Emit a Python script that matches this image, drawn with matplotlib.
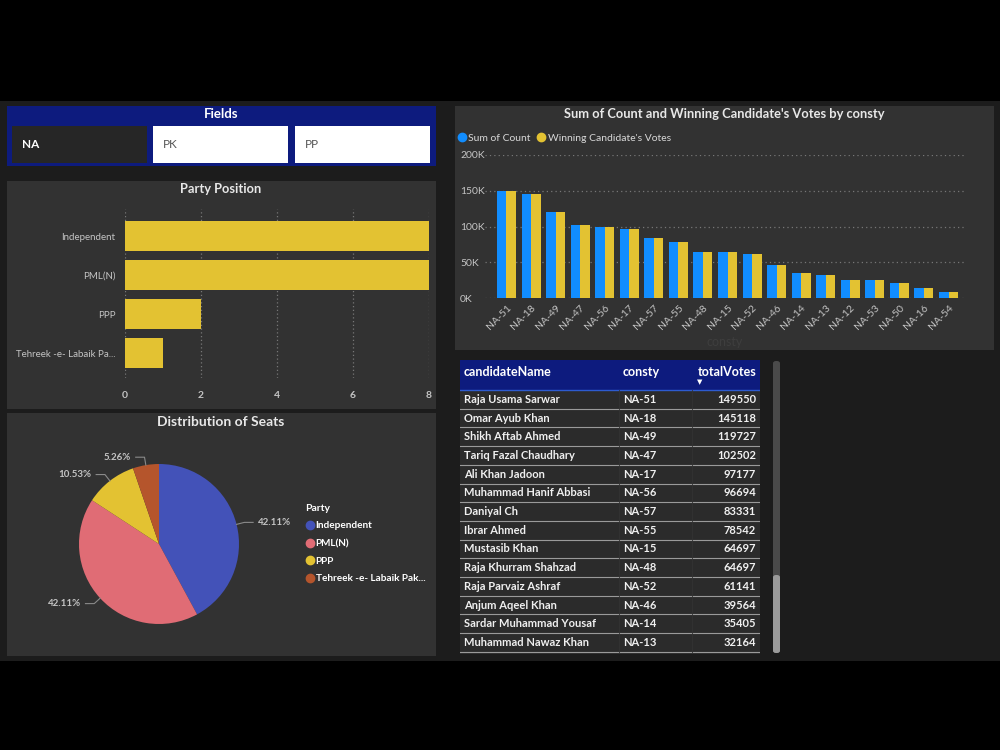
import matplotlib
matplotlib.use("Agg")
import matplotlib.pyplot as plt
from matplotlib.patches import Rectangle, FancyBboxPatch
from matplotlib.lines import Line2D
import numpy as np

plt.rcParams['font.family'] = ['Lato', 'DejaVu Sans']

# ---- data ----
parties = ["Independent", "PML(N)", "PPP", "Tehreek -e- Labaik Pa..."]
party_seats = [8, 8, 2, 1]
pie_legend = ["Independent", "PML(N)", "PPP", "Tehreek -e- Labaik Pak..."]
pie_colors = ["#4352b8", "#e06c75", "#e3c232", "#b5552c"]

consty = ["NA-51", "NA-18", "NA-49", "NA-47", "NA-56", "NA-17", "NA-57", "NA-55",
          "NA-48", "NA-15", "NA-52", "NA-46", "NA-14", "NA-13", "NA-12", "NA-53",
          "NA-50", "NA-16", "NA-54"]
sum_count = [149550, 145118, 119727, 102502, 99500, 97177, 83331, 78542,
             64697, 64697, 61141, 46500, 35405, 32164, 25500, 24800,
             20500, 14000, 9000]
winner_votes = [149550, 145118, 119727, 102502, 99500, 97177, 83331, 78542,
                64697, 64697, 61141, 46500, 35405, 32164, 25500, 24800,
                20500, 14000, 9000]

tbl_names = ["Raja Usama Sarwar", "Omar Ayub Khan", "Shikh Aftab Ahmed",
             "Tariq Fazal Chaudhary", "Ali Khan Jadoon", "Muhammad Hanif Abbasi",
             "Daniyal Ch", "Ibrar Ahmed", "Mustasib Khan", "Raja Khurram Shahzad",
             "Raja Parvaiz Ashraf", "Anjum Aqeel Khan", "Sardar Muhammad Yousaf",
             "Muhammad Nawaz Khan"]
tbl_consty = ["NA-51", "NA-18", "NA-49", "NA-47", "NA-17", "NA-56", "NA-57",
              "NA-55", "NA-15", "NA-48", "NA-52", "NA-46", "NA-14", "NA-13"]
tbl_votes = [149550, 145118, 119727, 102502, 97177, 96694, 83331,
             78542, 64697, 64697, 61141, 39564, 35405, 32164]

fields = ["NA", "PK", "PP"]

W, H = 1000, 750
fig = plt.figure(figsize=(10, 7.5), dpi=100, facecolor="black")


def box(x0, y0, x1, y1):
    return [x0 / W, 1 - y1 / H, (x1 - x0) / W, (y1 - y0) / H]


def rect(x0, y0, x1, y1, color, z=-10):
    b = box(x0, y0, x1, y1)
    fig.add_artist(Rectangle((b[0], b[1]), b[2], b[3], transform=fig.transFigure,
                             facecolor=color, edgecolor="none", zorder=z))


def ftext(x, y, s, **kw):
    fig.text(x / W, 1 - y / H, s, **kw)


TITLE = "#e8e8e8"
TICK = "#c4c4c4"
PANEL = "#323232"
BLUE = "#0d1b7e"

# backgrounds
rect(0, 101, 1000, 661, "#1c1c1c", z=-20)
rect(7, 106, 436, 166, BLUE)
rect(7, 181, 436, 409, PANEL)
rect(7, 413, 436, 656, PANEL)
rect(455, 106, 994, 350, PANEL)

# ---- Fields slicer ----
ftext(221, 114, "Fields", ha="center", va="center", color="white",
      fontsize=9.5, fontweight="bold")
btn_x = [(12, 147), (153, 288), (295, 430)]
for (x0, x1), f in zip(btn_x, fields):
    sel = f == "NA"
    rect(x0, 126, x1, 163, "#262626" if sel else "white", z=-5)
    ftext(x0 + 10, 145, f, ha="left", va="center", fontsize=8.5,
          fontweight="bold" if sel else "normal",
          color="white" if sel else "#555555")

# ---- Party Position ----
ftext(221, 189, "Party Position", ha="center", va="center", color=TITLE,
      fontsize=9.3, fontweight="bold")
ax1 = fig.add_axes(box(125, 209, 429, 378))
ax1.set_facecolor("none")
ax1.barh(np.arange(len(parties)), party_seats, height=0.76, color="#e3c232")
ax1.set_ylim(3.64, -0.7)
ax1.set_xlim(0, 8)
ax1.set_xticks([0, 2, 4, 6, 8])
ax1.set_yticks(np.arange(len(parties)))
ax1.set_yticklabels(parties)
ax1.tick_params(length=0, colors=TICK, labelsize=7)
ax1.tick_params(axis="x", pad=9, labelsize=7.5)
ax1.tick_params(axis="y", pad=7)
for lab in ax1.get_xticklabels():
    lab.set_fontweight("bold")
ax1.grid(axis="x", linestyle=(0, (1, 2)), color="#777777", linewidth=0.9)
ax1.set_axisbelow(True)
for s in ax1.spines.values():
    s.set_visible(False)

# ---- Distribution of Seats ----
ftext(221, 422, "Distribution of Seats", ha="center", va="center", color=TITLE,
      fontsize=10, fontweight="bold")
ax2 = fig.add_axes(box(79, 464, 239, 624))
ax2.set_facecolor("none")
wedges, _ = ax2.pie(party_seats, colors=pie_colors, startangle=90,
                    counterclock=False, radius=1.0)
ax2.set_xlim(-1, 1)
ax2.set_ylim(-1, 1)
ax2.set_aspect("equal")
total = sum(party_seats)
for w, v in zip(wedges, party_seats):
    ang = np.deg2rad((w.theta1 + w.theta2) / 2)
    p0 = np.array([np.cos(ang), np.sin(ang)])
    p1 = p0 * 1.1
    side = 1 if p0[0] > 0 else -1
    p2 = p1 + np.array([0.11 * side, 0])
    ax2.add_line(Line2D([p0[0], p1[0], p2[0]], [p0[1], p1[1], p2[1]],
                        color="#8a8a8a", linewidth=0.8, clip_on=False))
    ax2.text(p2[0] + 0.06 * side, p2[1], f"{v / total * 100:.2f}%",
             ha="left" if side > 0 else "right", va="center", color=TICK,
             fontsize=7, fontweight="bold", clip_on=False)

handles = [Line2D([], [], marker="o", linestyle="none", markersize=6,
                  markerfacecolor=c, markeredgecolor=c) for c in pie_colors]
leg = fig.legend(handles, pie_legend, title="Party", loc="upper left",
                 bbox_to_anchor=(301 / W, 1 - 500 / H), frameon=False,
                 handletextpad=0.05, labelspacing=0.85, borderaxespad=0,
                 handlelength=1.0, prop={"size": 7.2, "weight": "bold"})
leg.get_title().set_color("white")
leg.get_title().set_fontsize(7.5)
leg.get_title().set_fontweight("bold")
leg._legend_box.align = "left"
for t in leg.get_texts():
    t.set_color("white")

# ---- Sum of Count and Winning Candidate's Votes ----
ftext(724, 114, "Sum of Count and Winning Candidate's Votes by consty",
      ha="center", va="center", color=TITLE, fontsize=9.3, fontweight="bold")
ax3 = fig.add_axes(box(485, 155, 965, 298))
ax3.set_facecolor("none")
x = np.arange(len(consty))
bw = 0.387
ax3.bar(x - bw / 2, sum_count, width=bw, color="#118dff", label="Sum of Count")
ax3.bar(x + bw / 2, winner_votes, width=bw, color="#e3c232",
        label="Winning Candidate's Votes")
ax3.set_xlim(-0.875, len(consty) - 0.33)
ax3.set_ylim(0, 200000)
ax3.set_yticks([0, 50000, 100000, 150000, 200000])
ax3.set_yticklabels(["0K", "50K", "100K", "150K", "200K"])
ax3.set_xticks(x)
ax3.set_xticklabels(consty, rotation=45, ha="right", rotation_mode="anchor")
ax3.tick_params(length=0, colors=TICK, labelsize=7.5)
ax3.tick_params(axis="y", pad=18)
ax3.tick_params(axis="x", pad=4)
for lab in ax3.get_yticklabels():
    lab.set_ha("left")
ax3.grid(axis="y", linestyle=(0, (1, 2.5)), color="#777777", linewidth=0.9)
ax3.set_axisbelow(True)
for s in ax3.spines.values():
    s.set_visible(False)
ax3.set_xlabel("consty", color="#3e3e3e", fontsize=9, labelpad=3)
leg3 = ax3.legend(handles=[Line2D([], [], marker="o", linestyle="none",
                                  markersize=6, markerfacecolor=c,
                                  markeredgecolor=c)
                           for c in ("#118dff", "#e3c232")],
                  labels=["Sum of Count", "Winning Candidate's Votes"],
                  loc="lower left", bbox_to_anchor=(458 / W, 1 - 143 / H),
                  bbox_transform=fig.transFigure, ncol=2, frameon=False,
                  handlelength=0.8, handletextpad=0.2,
                  columnspacing=0.6, borderaxespad=0, borderpad=0,
                  prop={"size": 7.5})
for t in leg3.get_texts():
    t.set_color("#d8d8d8")

# ---- table ----
ax4 = fig.add_axes(box(460, 360, 760, 654))
ax4.set_xlim(0, 300)
ax4.set_ylim(294, 0)
ax4.axis("off")
head_h = 30
row_h = 18.7
ax4.add_patch(Rectangle((0, 0), 300, head_h, facecolor=BLUE, edgecolor="none"))
ax4.add_patch(Rectangle((0, head_h), 300, 294 - head_h, facecolor="#2b2b2b",
                        edgecolor="none"))
ax4.axhline(head_h, color="#2d5bd0", linewidth=1)
ax4.text(4, 12, "candidateName", ha="left", va="center", color="white",
         fontsize=9, fontweight="bold")
ax4.text(163, 12, "consty", ha="left", va="center", color="white",
         fontsize=9, fontweight="bold")
ax4.text(296, 12, "totalVotes", ha="right", va="center", color="white",
         fontsize=9, fontweight="bold")
ax4.text(240, 22, "\u25bc", ha="center", va="center", color="white",
         fontsize=5, family="DejaVu Sans")
for i, (n, c, v) in enumerate(zip(tbl_names, tbl_consty, tbl_votes)):
    yc = head_h + row_h * (i + 0.5)
    ax4.text(4, yc, n, ha="left", va="center", color="#f0f0f0", fontsize=8,
             fontweight="bold")
    ax4.text(163, yc, c, ha="left", va="center", color="#f0f0f0", fontsize=8,
             fontweight="bold")
    ax4.text(296, yc, str(v), ha="right", va="center", color="#f0f0f0",
             fontsize=8, fontweight="bold")
    ax4.axhline(head_h + row_h * (i + 1), color="#9a9a9a", linewidth=0.8)
for xv in (159, 232):
    ax4.plot([xv, xv], [head_h, 294], color="#333333", linewidth=0.6)

# scrollbar
sb = box(773, 361, 780, 653)
fig.add_artist(FancyBboxPatch((sb[0], sb[1]), sb[2], sb[3],
                              boxstyle="round,pad=0,rounding_size=0.003",
                              transform=fig.transFigure, facecolor="#4a4a4a",
                              edgecolor="none"))
th = box(773, 575, 780, 653)
fig.add_artist(FancyBboxPatch((th[0], th[1]), th[2], th[3],
                              boxstyle="round,pad=0,rounding_size=0.003",
                              transform=fig.transFigure, facecolor="#9a9a9a",
                              edgecolor="none"))

fig.savefig("out.png", dpi=100, facecolor="black")
